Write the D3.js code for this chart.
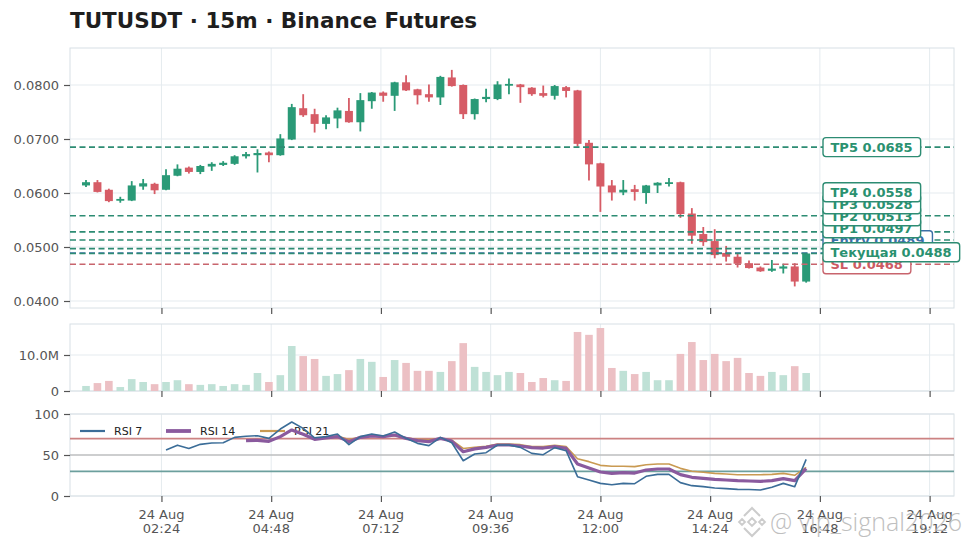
<!DOCTYPE html>
<html><head><meta charset="utf-8">
<script src="https://cdn.jsdelivr.net/npm/d3@7"></script>
<style>body{margin:0;background:#fff}svg{display:block}text{font-family:"DejaVu Sans",sans-serif}</style>
</head><body>
<svg id="c" width="971" height="548"></svg>
<script>
// ---------- DATA ----------
const title = "TUTUSDT · 15m · Binance Futures";
const startTime = "2025-08-24T00:45:00Z";
const intervalMin = 15;
const open = [0.0614,0.0620,0.0606,0.0586,0.0586,0.0612,0.0617,0.0606,0.0632,0.0647,
  0.0639,0.0649,0.0652,0.0654,0.0668,0.0670,0.0675,0.0670,0.0699,0.0757,
  0.0746,0.0728,0.0738,0.0752,0.0731,0.0770,0.0786,0.0780,0.0805,0.0792,
  0.0783,0.0777,0.0814,0.0800,0.0746,0.0774,0.0774,0.0799,0.0801,0.0795,
  0.0785,0.0780,0.0796,0.0790,0.0693,0.0655,0.0614,0.0601,0.0607,0.0600,
  0.0614,0.0617,0.0620,0.0562,0.0524,0.0511,0.0489,0.0482,0.0470,0.0462,
  0.0456,0.0460,0.0464,0.0436];
const high = [0.0624,0.0624,0.0608,0.0593,0.0622,0.0626,0.0619,0.0644,0.0653,0.0649,
  0.0652,0.0657,0.0659,0.0670,0.0676,0.0681,0.0677,0.0709,0.0765,0.0783,
  0.0756,0.0744,0.0758,0.0776,0.0785,0.0787,0.0788,0.0806,0.0818,0.0793,
  0.0801,0.0817,0.0828,0.0801,0.0775,0.0793,0.0807,0.0812,0.0802,0.0796,
  0.0799,0.0800,0.0798,0.0791,0.0698,0.0656,0.0624,0.0624,0.0615,0.0615,
  0.0620,0.0628,0.0621,0.0572,0.0537,0.0533,0.0502,0.0487,0.0475,0.0464,
  0.0476,0.0469,0.0470,0.0489];
const low = [0.0611,0.0601,0.0583,0.0582,0.0585,0.0606,0.0598,0.0605,0.0631,0.0636,
  0.0635,0.0641,0.0650,0.0652,0.0664,0.0638,0.0657,0.0669,0.0698,0.0741,
  0.0712,0.0718,0.0720,0.0730,0.0714,0.0756,0.0769,0.0752,0.0789,0.0764,
  0.0769,0.0763,0.0797,0.0737,0.0736,0.0768,0.0772,0.0783,0.0767,0.0780,
  0.0777,0.0773,0.0777,0.0686,0.0623,0.0565,0.0586,0.0596,0.0586,0.0580,
  0.0600,0.0612,0.0554,0.0506,0.0502,0.0479,0.0473,0.0462,0.0460,0.0454,
  0.0454,0.0451,0.0427,0.0434];
const close = [0.0620,0.0602,0.0585,0.0589,0.0614,0.0618,0.0605,0.0633,0.0645,0.0639,
  0.0650,0.0654,0.0656,0.0668,0.0672,0.0674,0.0670,0.0701,0.0759,0.0744,
  0.0728,0.0740,0.0753,0.0731,0.0772,0.0786,0.0780,0.0805,0.0790,0.0781,
  0.0777,0.0815,0.0798,0.0746,0.0774,0.0778,0.0801,0.0802,0.0796,0.0783,
  0.0780,0.0798,0.0789,0.0691,0.0653,0.0612,0.0601,0.0606,0.0602,0.0614,
  0.0619,0.0620,0.0561,0.0521,0.0509,0.0485,0.0482,0.0469,0.0461,0.0455,
  0.0460,0.0464,0.0436,0.0488];
const volumeM = [1.4,2.2,2.8,1.1,3.3,2.5,1.9,2.5,3.0,1.9,
  1.7,1.9,1.4,1.9,1.7,5.0,2.5,4.4,12.5,9.7,
  8.9,4.2,4.7,5.8,8.9,8.1,3.9,8.6,7.8,5.6,
  5.6,5.3,8.3,13.3,6.7,5.3,4.4,5.3,5.0,2.5,
  3.6,3.0,2.8,16.4,15.6,17.5,6.4,5.6,4.7,5.3,
  3.0,3.0,10.3,13.6,8.6,10.3,8.3,9.2,5.0,4.2,
  5.3,4.4,6.9,5.0];
const rsi7 = [null,null,null,null,null,null,null,56,62,58,
  63,64.6,65,71.5,72.8,73.5,70.3,81.7,90.2,82.5,
  71,72.4,75.6,62.6,72.4,75.6,73.2,78,70.3,64.2,
  61.4,71.5,65,43,51.2,52.8,62.2,62.2,59.3,52,
  50.4,59,55.3,23.6,19.5,15.4,13.8,15.4,15,24,
  26.4,26.4,16.3,12.6,11.4,9.8,9,8.1,8,7.3,
  10.6,15.4,11.4,44.7];
const rsi14 = [null,null,null,null,null,null,null,null,null,null,
  null,null,null,null,67.5,67.9,66.7,72.4,80.5,75.2,
  69.1,70.7,72.4,66.3,71.5,73.2,72.4,74.4,70.3,67.5,
  66.3,70.3,67,54,57.5,59.3,62.2,62.2,61,59,
  58.5,60.2,58.1,39,34.1,29.3,27.6,28.5,28,31.7,
  32.9,32.9,26,22.8,21.5,20.3,19.5,18.7,18.3,17.9,
  18.7,21.1,18.7,33.3];
const rsi21 = [null,null,null,null,null,null,null,null,null,null,
  null,null,null,null,null,null,null,null,null,null,
  null,72,73,69,72,73,72.5,73.5,71,69,
  68.5,70.5,68,58,59.5,60.6,63.4,63.4,62.6,60.2,
  60.2,61.8,60.2,45.5,41.9,37.4,36.2,36.2,35.8,38.2,
  39,39,33.7,30.1,28.9,27.6,26.8,26,26,26,
  26.4,27.6,25.2,35];
const levelNames = ["SL","Entry","Текущая","TP1","TP2","TP3","TP4","TP5"];
const levelValues = [0.0468,0.0489,0.0488,0.0497,0.0513,0.0528,0.0558,0.0685];
const levelKinds = ["sl","entry","cur","tp","tp","tp","tp","tp"];
const priceTicks = [0.04,0.05,0.06,0.07,0.08];
const volTicks = [0,10e6];
const rsiTicks = [0,50,100];
const rsiRefs = [70,50,30];
const timeTickLabels = ["02:24","04:48","07:12","09:36","12:00","14:24","16:48","19:12"];
const dayLabel = "24 Aug";
const xDomain = ["2025-08-24T00:24:00Z","2025-08-24T19:44:00Z"];
const watermark = "@ vip_signal2026";

// ---------- LAYOUT ----------
const L=70, R=954;
const P={top:48,bottom:308}, V={top:324,bottom:391}, S={top:414,bottom:496};
const GREEN="#2a9a77", RED="#d65c66";
const GRID="#e5ebef", FRAME="#d8e0e5", TICKC="#555", LABC="#555";
const svg=d3.select("#c");

const t0=new Date(startTime).getTime();
const times=open.map((_,i)=>new Date(t0+i*intervalMin*60000));
const x=d3.scaleUtc().domain(xDomain.map(s=>new Date(s))).range([L,R]);
const tickDates=timeTickLabels.map(s=>new Date("2025-08-24T"+s+":00Z"));
const y=d3.scaleLinear().domain([0.038704,0.086852]).range([P.bottom,P.top]);
const yv=d3.scaleLinear().domain([0,18.61e6]).range([V.bottom,V.top]);
const yr=d3.scaleLinear().domain([0,100]).range([S.bottom,S.top]);

// title
svg.append("text").attr("x",70).attr("y",28).attr("font-size",21.5).attr("font-weight","bold")
  .attr("fill","#1e1e1e").text(title);

function panel(p,yscale,yt,fmt){
  const g=svg.append("g");
  g.selectAll(".vg").data(tickDates).join("line").attr("x1",d=>x(d)).attr("x2",d=>x(d))
    .attr("y1",p.top).attr("y2",p.bottom).attr("stroke",GRID).attr("stroke-width",1);
  g.selectAll(".hg").data(yt).join("line").attr("x1",L).attr("x2",R)
    .attr("y1",d=>yscale(d)).attr("y2",d=>yscale(d)).attr("stroke",GRID).attr("stroke-width",1);
  g.append("rect").attr("x",L).attr("y",p.top).attr("width",R-L).attr("height",p.bottom-p.top)
    .attr("fill","none").attr("stroke",FRAME).attr("stroke-width",1);
  const ay=svg.append("g").attr("transform",`translate(${L},0)`)
    .call(d3.axisLeft(yscale).tickValues(yt).tickFormat(fmt).tickSize(6).tickPadding(5));
  ay.select(".domain").remove();
  ay.selectAll("line").attr("stroke",TICKC).attr("stroke-width",1.2);
  ay.selectAll("text").attr("font-size",13).attr("fill",LABC).attr("font-family","DejaVu Sans");
  const ax=svg.append("g").attr("transform",`translate(0,${p.bottom})`)
    .call(d3.axisBottom(x).tickValues(tickDates).tickFormat("").tickSize(6));
  ax.select(".domain").remove();
  ax.selectAll("line").attr("stroke",TICKC).attr("stroke-width",1.2);
  return g;
}

panel(P,y,priceTicks,d3.format(".4f"));
panel(V,yv,volTicks,d=>d===0?"0":(d/1e6).toFixed(1)+"M");
panel(S,yr,rsiTicks,d3.format("d"));

// time labels
const tl=svg.append("g").attr("font-size",13).attr("fill",LABC).attr("text-anchor","middle");
tickDates.forEach((d,i)=>{
  tl.append("text").attr("x",x(d)).attr("y",519).text(dayLabel);
  tl.append("text").attr("x",x(d)).attr("y",533).text(timeTickLabels[i]);
});

// candles
const cg=svg.append("g");
const bw=8;
times.forEach((t,i)=>{
  const up=close[i]>=open[i], col=up?GREEN:RED, cx=x(t);
  cg.append("line").attr("x1",cx).attr("x2",cx).attr("y1",y(high[i])).attr("y2",y(low[i]))
    .attr("stroke",col).attr("stroke-width",1.8);
  const y0=y(Math.max(open[i],close[i])), y1=y(Math.min(open[i],close[i]));
  cg.append("rect").attr("x",cx-bw/2).attr("width",bw).attr("y",y0).attr("height",Math.max(1.8,y1-y0)).attr("fill",col);
});

// volume bars
const vg=svg.append("g");
times.forEach((t,i)=>{
  const up=close[i]>=open[i];
  const v=volumeM[i]*1e6;
  vg.append("rect").attr("x",x(t)-3.8).attr("width",7.6).attr("y",yv(v)).attr("height",yv(0)-yv(v))
    .attr("fill",up?"#bfe1d6":"#ecc0c4");
});

// level lines
const lineColor={sl:"#c8646d",entry:"#3b6fa6",cur:"#2d8c73",tp:"#2d8c73"};
const textColor={sl:"#cc5a63",entry:"#3b6fa6",cur:"#2a9170",tp:"#2a9170"};
const lg=svg.append("g");
levelValues.forEach((v,i)=>{
  lg.append("line").attr("x1",L).attr("x2",R).attr("y1",y(v)).attr("y2",y(v))
    .attr("stroke",lineColor[levelKinds[i]]).attr("stroke-width",1.6).attr("stroke-dasharray","6,3.5");
});
const order=levelValues.map((v,i)=>i).sort((a,b)=>levelValues[a]-levelValues[b]);
const labelY={}; let prev=Infinity; const gap=12;
order.forEach(i=>{ const yy=Math.min(y(levelValues[i]),prev-gap); labelY[i]=yy; prev=yy; });
const drawOrder=[0,1,3,4,5,6,7,2];
drawOrder.forEach(i=>{
  const k=levelKinds[i];
  const g=lg.append("g");
  const rect=g.append("rect");
  const txt=g.append("text").attr("x",830.5).attr("y",labelY[i]).attr("dy","0.36em")
    .attr("font-size",13).attr("font-weight","bold").attr("fill",textColor[k])
    .text(levelNames[i]+" "+levelValues[i].toFixed(4));
  const w=txt.node().getComputedTextLength();
  rect.attr("x",823).attr("y",labelY[i]-9.5).attr("width",w+15.5).attr("height",19).attr("rx",3)
    .attr("fill","#fff").attr("stroke",lineColor[k]).attr("stroke-width",1.4);
});

// RSI reference lines
const refColor={70:"#cc8282",50:"#a8a8a8",30:"#6c9f9d"};
const refW={70:1.6,50:1.2,30:1.8};
rsiRefs.forEach(r=>{
  svg.append("line").attr("x1",L).attr("x2",R).attr("y1",yr(r)).attr("y2",yr(r))
    .attr("stroke",refColor[r]).attr("stroke-width",refW[r]);
});

// legend
const series=[{name:"RSI 7",data:rsi7,color:"#3b6d98",w:1.6},
  {name:"RSI 14",data:rsi14,color:"#8a5a9e",w:3.2},
  {name:"RSI 21",data:rsi21,color:"#c99a52",w:1.6}];
const legX=[80,166,260];
const leg=svg.append("g");
series.forEach((s,i)=>{
  leg.append("line").attr("x1",legX[i]).attr("x2",legX[i]+25).attr("y1",431).attr("y2",431)
    .attr("stroke",s.color).attr("stroke-width",s.w+0.6);
  leg.append("text").attr("x",legX[i]+34).attr("y",435).attr("font-size",11).attr("fill","#222").text(s.name);
});

// RSI lines
const line=d3.line().defined(d=>d[1]!=null).x(d=>x(d[0])).y(d=>yr(d[1]));
[series[2],series[1],series[0]].forEach(s=>{
  svg.append("path").datum(times.map((t,i)=>[t,s.data[i]])).attr("d",line)
    .attr("fill","none").attr("stroke",s.color).attr("stroke-width",s.w).attr("stroke-linejoin","round");
});

// watermark
const wm=svg.append("g").attr("opacity",0.85);
const lc=[752,522];
const dia=(cx,cy,r)=>`M${cx},${cy-r}L${cx+r},${cy}L${cx},${cy+r}L${cx-r},${cy}Z`;
wm.append("path").attr("d",dia(lc[0],lc[1],4)+dia(lc[0]-10,lc[1],3)+dia(lc[0]+10,lc[1],3))
  .attr("fill","none").attr("stroke","#c4c4c4").attr("stroke-width",1.8);
wm.append("path").attr("d",`M${lc[0]-8},${lc[1]-6}L${lc[0]},${lc[1]-14}L${lc[0]+8},${lc[1]-6}M${lc[0]-8},${lc[1]+6}L${lc[0]},${lc[1]+14}L${lc[0]+8},${lc[1]+6}`)
  .attr("fill","none").attr("stroke","#c4c4c4").attr("stroke-width",2);
wm.append("text").attr("x",770).attr("y",531).attr("font-size",25).attr("font-weight",300)
  .attr("fill","#b4b4b4").style("font-family","'Open Sans'").text(watermark);
</script>
</body></html>
